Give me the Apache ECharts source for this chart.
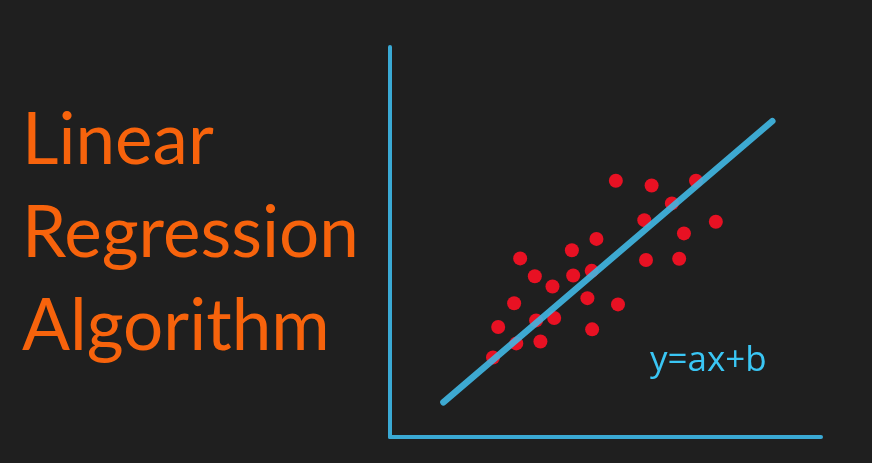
<!DOCTYPE html>
<html>
<head>
<meta charset="utf-8">
<script src="https://cdn.jsdelivr.net/npm/echarts@6/dist/echarts.min.js"></script>
<style>
html,body{margin:0;padding:0;background:#1f1f1f;}
#main{width:872px;height:463px;}
</style>
</head>
<body>
<div id="main"></div>
<script>
// Data (arbitrary units, x and y from 0 to 10)
var pointsX = [5.24, 6.07, 7.10, 6.54, 5.90, 7.56, 6.82, 4.79, 4.22, 3.02, 5.94, 6.71, 3.36,
               4.25, 4.68, 3.77, 2.88, 4.58, 5.29, 2.51, 3.39, 3.81, 4.69, 2.93, 3.49, 2.39];
var pointsY = [6.57, 6.45, 6.57, 5.99, 5.56, 5.52, 5.22, 5.08, 4.79, 4.58, 4.54, 4.57, 4.12,
               4.14, 4.26, 3.86, 3.43, 3.56, 3.40, 2.82, 2.99, 3.05, 2.76, 2.40, 2.45, 2.04];
var lineX = [1.24, 8.87];
var lineY = [0.89, 8.10];
var titleLines = ['Linear', 'Regression', 'Algorithm'];
var equation = 'y=ax+b';

var chart = echarts.init(document.getElementById('main'), null, {renderer: 'canvas'});

var scatterData = pointsX.map(function (x, i) { return [x, pointsY[i]]; });
var lineData = lineX.map(function (x, i) { return [x, lineY[i]]; });

var axisColor = '#3aa9d4';
var titleGraphics = titleLines.map(function (t, i) {
  return {
    type: 'text',
    left: 22,
    top: 106 + i * 93,
    style: {
      text: t,
      fill: '#f7630c',
      font: '400 71px Lato'
    }
  };
});

chart.setOption({
  backgroundColor: '#1f1f1f',
  animation: false,
  grid: {left: 390, top: 47, right: 51, bottom: 26},
  xAxis: {
    type: 'value', min: 0, max: 10,
    axisLine: {show: true, lineStyle: {color: axisColor, width: 4, cap: 'round'}},
    axisTick: {show: false}, axisLabel: {show: false}, splitLine: {show: false}
  },
  yAxis: {
    type: 'value', min: 0, max: 10,
    axisLine: {show: true, lineStyle: {color: axisColor, width: 4, cap: 'round'}},
    axisTick: {show: false}, axisLabel: {show: false}, splitLine: {show: false}
  },
  series: [
    {
      type: 'scatter',
      data: scatterData,
      symbolSize: 14,
      itemStyle: {color: '#e81123', opacity: 1},
      z: 2
    },
    {
      type: 'line',
      data: lineData,
      showSymbol: false,
      symbol: 'none',
      lineStyle: {color: '#40b8e4', width: 6.5, opacity: 0.9, cap: 'round'},
      z: 3
    }
  ],
  graphic: titleGraphics.concat([
    {
      type: 'text',
      left: 650,
      top: 344,
      style: {
        text: equation,
        fill: '#3ac6f4',
        font: '400 35px "Open Sans"'
      }
    }
  ])
});
</script>
</body>
</html>
